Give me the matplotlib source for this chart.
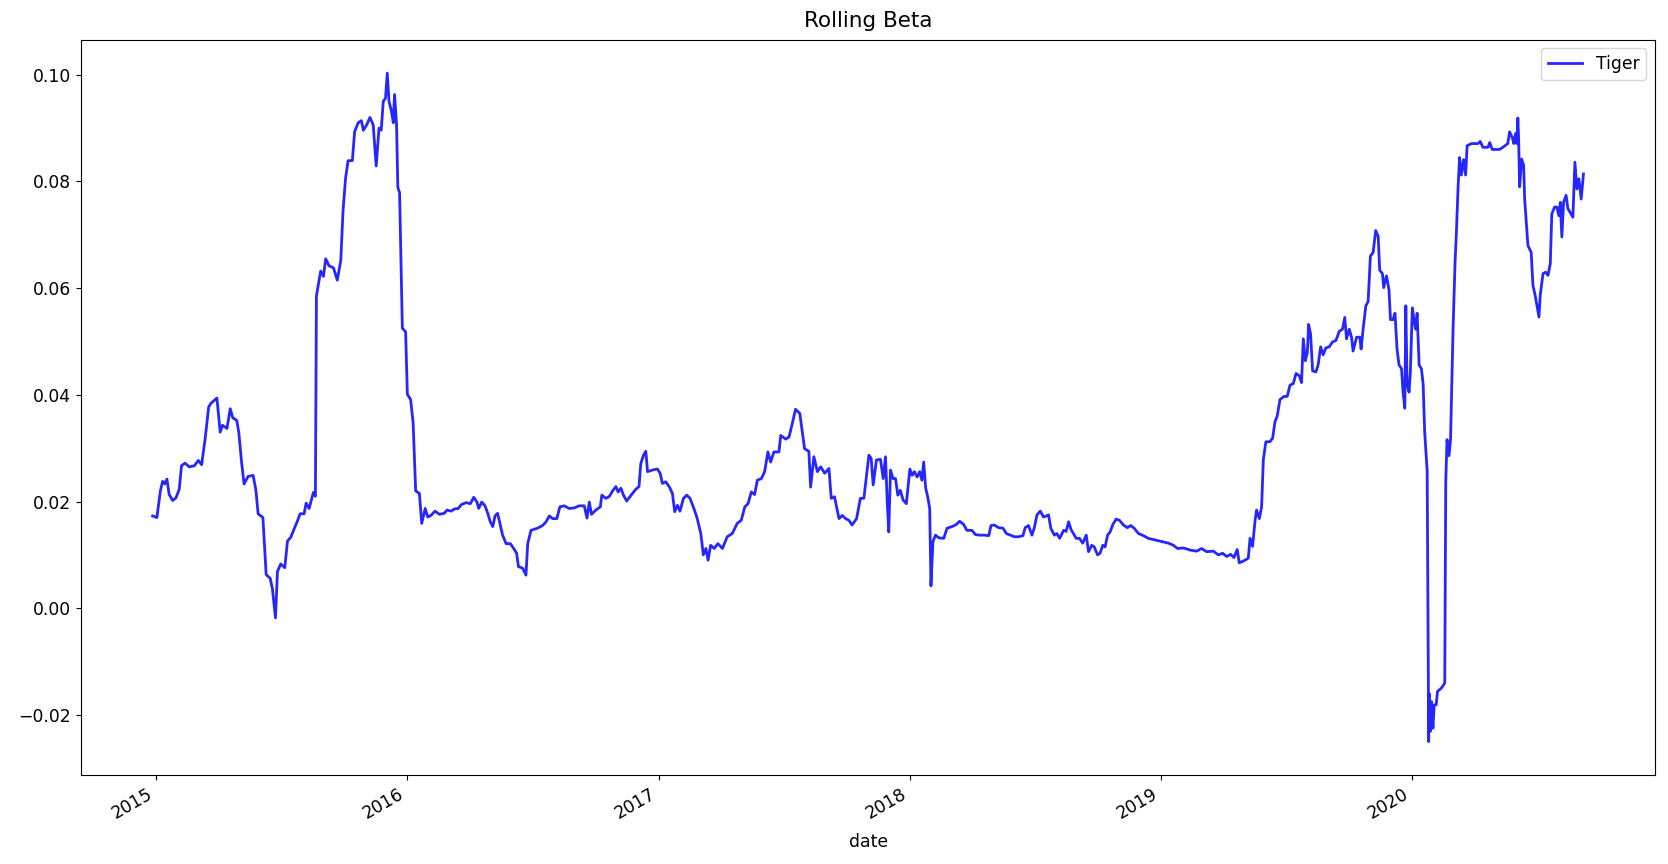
import numpy as np
import pandas as pd
import matplotlib
matplotlib.use("Agg")
import matplotlib.pyplot as plt
import matplotlib.dates as mdates

# rolling beta, time as decimal year
t2015 = [2014.987, 2015.004, 2015.018, 2015.027, 2015.036, 2015.044, 2015.053, 2015.067, 2015.080, 2015.093,
         2015.102, 2015.116, 2015.133, 2015.153, 2015.169, 2015.182, 2015.196, 2015.210, 2015.219, 2015.243,
         2015.256, 2015.265, 2015.283, 2015.296, 2015.306, 2015.322, 2015.330, 2015.341, 2015.351, 2015.367,
         2015.387, 2015.398, 2015.407, 2015.426, 2015.439, 2015.455, 2015.464, 2015.476, 2015.484, 2015.497,
         2015.513, 2015.524, 2015.537, 2015.548, 2015.563, 2015.574, 2015.590, 2015.598, 2015.610, 2015.627,
         2015.635, 2015.639, 2015.646, 2015.656, 2015.667, 2015.676, 2015.689, 2015.707, 2015.722, 2015.736,
         2015.745, 2015.755, 2015.765, 2015.782, 2015.791, 2015.805, 2015.818, 2015.826, 2015.839, 2015.852,
         2015.865, 2015.877, 2015.888, 2015.897, 2015.905, 2015.914, 2015.921, 2015.928, 2015.937, 2015.945,
         2015.950, 2015.958, 2015.963, 2015.970, 2015.981, 2015.994]
b2015 = [0.0173, 0.0170, 0.0220, 0.0238, 0.0233, 0.0242, 0.0213, 0.0202, 0.0207, 0.0223,
         0.0267, 0.0272, 0.0265, 0.0267, 0.0277, 0.0269, 0.0317, 0.0377, 0.0384, 0.0394,
         0.0330, 0.0343, 0.0337, 0.0374, 0.0357, 0.0352, 0.0330, 0.0274, 0.0233, 0.0247,
         0.0249, 0.0222, 0.0177, 0.0170, 0.0063, 0.0056, 0.0036, -0.0018, 0.0069, 0.0083,
         0.0076, 0.0126, 0.0133, 0.0146, 0.0163, 0.0177, 0.0177, 0.0197, 0.0187, 0.0217,
         0.0210, 0.0585, 0.0605, 0.0632, 0.0622, 0.0655, 0.0642, 0.0638, 0.0615, 0.0652,
         0.0746, 0.0806, 0.0839, 0.0839, 0.0893, 0.0910, 0.0914, 0.0896, 0.0906, 0.0920,
         0.0906, 0.0829, 0.0900, 0.0896, 0.0950, 0.0956, 0.1003, 0.0950, 0.0933, 0.0910,
         0.0963, 0.0906, 0.0789, 0.0779, 0.0525, 0.0518]

t2016 = [2016.001, 2016.014, 2016.024, 2016.034, 2016.049, 2016.058, 2016.072, 2016.082, 2016.095, 2016.111,
         2016.129, 2016.148, 2016.159, 2016.175, 2016.188, 2016.204, 2016.215, 2016.235, 2016.252, 2016.265,
         2016.278, 2016.285, 2016.297, 2016.310, 2016.321, 2016.331, 2016.341, 2016.350, 2016.360, 2016.368,
         2016.380, 2016.394, 2016.411, 2016.424, 2016.436, 2016.443, 2016.460, 2016.473, 2016.480, 2016.493,
         2016.519, 2016.539, 2016.553, 2016.566, 2016.579, 2016.596, 2016.608, 2016.625, 2016.645, 2016.665,
         2016.685, 2016.705, 2016.716, 2016.725, 2016.734, 2016.751, 2016.769, 2016.775, 2016.791, 2016.804,
         2016.818, 2016.831, 2016.840, 2016.851, 2016.861, 2016.874, 2016.890, 2016.910, 2016.923, 2016.930,
         2016.941, 2016.950, 2016.957, 2016.976, 2016.996]
b2016 = [0.0401, 0.0391, 0.0347, 0.0220, 0.0215, 0.0159, 0.0187, 0.0171, 0.0174, 0.0182,
         0.0176, 0.0178, 0.0184, 0.0182, 0.0186, 0.0187, 0.0194, 0.0198, 0.0196, 0.0208,
         0.0199, 0.0187, 0.0199, 0.0192, 0.0178, 0.0162, 0.0153, 0.0173, 0.0178, 0.0162,
         0.0137, 0.0121, 0.0121, 0.0112, 0.0103, 0.0078, 0.0075, 0.0062, 0.0121, 0.0146,
         0.0150, 0.0155, 0.0162, 0.0173, 0.0168, 0.0168, 0.0190, 0.0192, 0.0187, 0.0188,
         0.0192, 0.0192, 0.0169, 0.0199, 0.0176, 0.0184, 0.0190, 0.0212, 0.0206, 0.0209,
         0.0220, 0.0228, 0.0218, 0.0225, 0.0212, 0.0201, 0.0211, 0.0223, 0.0228, 0.0271,
         0.0287, 0.0294, 0.0256, 0.0259, 0.0261]

t2017 = [2017.007, 2017.016, 2017.029, 2017.043, 2017.056, 2017.065, 2017.076, 2017.086, 2017.100, 2017.113,
         2017.126, 2017.139, 2017.153, 2017.169, 2017.179, 2017.189, 2017.198, 2017.208, 2017.222, 2017.237,
         2017.255, 2017.274, 2017.294, 2017.314, 2017.330, 2017.344, 2017.357, 2017.370, 2017.383, 2017.394,
         2017.410, 2017.423, 2017.436, 2017.447, 2017.460, 2017.480, 2017.487, 2017.507, 2017.520, 2017.533,
         2017.546, 2017.563, 2017.573, 2017.582, 2017.599, 2017.606, 2017.619, 2017.633, 2017.646, 2017.662,
         2017.679, 2017.688, 2017.701, 2017.719, 2017.732, 2017.745, 2017.758, 2017.771, 2017.789, 2017.804,
         2017.818, 2017.827, 2017.838, 2017.847, 2017.855, 2017.868, 2017.884, 2017.895, 2017.904, 2017.911,
         2017.917, 2017.924, 2017.934, 2017.944, 2017.953, 2017.963, 2017.974, 2017.987]
b2017 = [0.0253, 0.0234, 0.0237, 0.0228, 0.0215, 0.0181, 0.0193, 0.0182, 0.0206, 0.0212,
         0.0206, 0.0190, 0.0171, 0.0140, 0.0100, 0.0112, 0.0090, 0.0118, 0.0112, 0.0121,
         0.0112, 0.0134, 0.0140, 0.0159, 0.0165, 0.0190, 0.0196, 0.0218, 0.0213, 0.0240,
         0.0243, 0.0256, 0.0293, 0.0274, 0.0293, 0.0293, 0.0324, 0.0317, 0.0321, 0.0346,
         0.0373, 0.0365, 0.0331, 0.0299, 0.0294, 0.0227, 0.0284, 0.0256, 0.0265, 0.0253,
         0.0262, 0.0206, 0.0209, 0.0168, 0.0174, 0.0168, 0.0165, 0.0156, 0.0168, 0.0206,
         0.0206, 0.0243, 0.0287, 0.0281, 0.0231, 0.0278, 0.0279, 0.0243, 0.0284, 0.0199,
         0.0143, 0.0259, 0.0243, 0.0243, 0.0212, 0.0221, 0.0203, 0.0196]

t2018 = [2018.001, 2018.010, 2018.019, 2018.030, 2018.040, 2018.049, 2018.056, 2018.064, 2018.072, 2018.080,
         2018.085, 2018.093, 2018.103, 2018.116, 2018.136, 2018.149, 2018.169, 2018.186, 2018.199, 2018.215,
         2018.228, 2018.248, 2018.262, 2018.279, 2018.297, 2018.315, 2018.324, 2018.337, 2018.354, 2018.372,
         2018.385, 2018.401, 2018.417, 2018.434, 2018.451, 2018.460, 2018.473, 2018.487, 2018.496, 2018.507,
         2018.520, 2018.533, 2018.544, 2018.553, 2018.562, 2018.576, 2018.586, 2018.597, 2018.613, 2018.623,
         2018.633, 2018.642, 2018.652, 2018.663, 2018.676, 2018.689, 2018.703, 2018.712, 2018.725, 2018.735,
         2018.748, 2018.758, 2018.769, 2018.778, 2018.788, 2018.798, 2018.809, 2018.822, 2018.835, 2018.851,
         2018.867, 2018.880, 2018.894, 2018.911, 2018.931, 2018.950, 2018.977]
b2018 = [0.0261, 0.0249, 0.0256, 0.0246, 0.0256, 0.0240, 0.0274, 0.0225, 0.0209, 0.0187,
         0.0042, 0.0125, 0.0137, 0.0132, 0.0131, 0.0150, 0.0153, 0.0157, 0.0163, 0.0157,
         0.0146, 0.0146, 0.0138, 0.0137, 0.0137, 0.0136, 0.0155, 0.0156, 0.0151, 0.0150,
         0.0140, 0.0137, 0.0134, 0.0134, 0.0136, 0.0151, 0.0155, 0.0137, 0.0150, 0.0175,
         0.0182, 0.0171, 0.0173, 0.0175, 0.0150, 0.0137, 0.0140, 0.0131, 0.0146, 0.0144,
         0.0162, 0.0148, 0.0140, 0.0131, 0.0131, 0.0122, 0.0137, 0.0106, 0.0118, 0.0115,
         0.0100, 0.0103, 0.0118, 0.0115, 0.0137, 0.0143, 0.0157, 0.0167, 0.0165, 0.0156,
         0.0151, 0.0155, 0.0150, 0.0140, 0.0136, 0.0131, 0.0128]

t2019 = [2019.003, 2019.030, 2019.050, 2019.066, 2019.090, 2019.116, 2019.143, 2019.162, 2019.182, 2019.209,
         2019.229, 2019.246, 2019.262, 2019.278, 2019.291, 2019.304, 2019.312, 2019.335, 2019.348, 2019.355,
         2019.365, 2019.375, 2019.381, 2019.392, 2019.401, 2019.408, 2019.418, 2019.434, 2019.445, 2019.454,
         2019.463, 2019.474, 2019.490, 2019.503, 2019.514, 2019.527, 2019.538, 2019.551, 2019.560, 2019.567,
         2019.575, 2019.583, 2019.588, 2019.596, 2019.604, 2019.617, 2019.626, 2019.636, 2019.646, 2019.657,
         2019.670, 2019.683, 2019.697, 2019.710, 2019.723, 2019.732, 2019.739, 2019.750, 2019.759, 2019.765,
         2019.779, 2019.792, 2019.797, 2019.805, 2019.816, 2019.825, 2019.834, 2019.845, 2019.855, 2019.865,
         2019.871, 2019.882, 2019.887, 2019.898, 2019.908, 2019.914, 2019.924, 2019.932, 2019.940, 2019.948,
         2019.958, 2019.964, 2019.971, 2019.975, 2019.980, 2019.988, 2019.993]
b2019 = [0.0125, 0.0122, 0.0118, 0.0112, 0.0113, 0.0109, 0.0107, 0.0112, 0.0106, 0.0107,
         0.0100, 0.0103, 0.0097, 0.0101, 0.0095, 0.0110, 0.0085, 0.0090, 0.0094, 0.0131,
         0.0116, 0.0164, 0.0184, 0.0168, 0.0190, 0.0279, 0.0312, 0.0312, 0.0319, 0.0349,
         0.0360, 0.0391, 0.0397, 0.0397, 0.0418, 0.0421, 0.0440, 0.0436, 0.0423, 0.0505,
         0.0464, 0.0479, 0.0532, 0.0514, 0.0445, 0.0443, 0.0456, 0.0490, 0.0475, 0.0488,
         0.0490, 0.0499, 0.0502, 0.0519, 0.0523, 0.0545, 0.0505, 0.0523, 0.0508, 0.0482,
         0.0508, 0.0508, 0.0486, 0.0523, 0.0567, 0.0575, 0.0660, 0.0667, 0.0708, 0.0697,
         0.0634, 0.0627, 0.0601, 0.0623, 0.0597, 0.0541, 0.0541, 0.0553, 0.0486, 0.0456,
         0.0449, 0.0405, 0.0375, 0.0567, 0.0420, 0.0405, 0.0442]

t2020 = [2020.001, 2020.006, 2020.014, 2020.020, 2020.028, 2020.037, 2020.044, 2020.050, 2020.057, 2020.060,
         2020.066, 2020.068, 2020.072, 2020.077, 2020.083, 2020.088, 2020.096, 2020.101, 2020.116, 2020.125,
         2020.130, 2020.134, 2020.139, 2020.147, 2020.153, 2020.163, 2020.171, 2020.176, 2020.183, 2020.189,
         2020.196, 2020.205, 2020.213, 2020.219, 2020.236, 2020.262, 2020.271, 2020.282, 2020.302, 2020.309,
         2020.319, 2020.348, 2020.361, 2020.381, 2020.388, 2020.399, 2020.405, 2020.412, 2020.417, 2020.421,
         2020.424, 2020.428, 2020.436, 2020.444, 2020.448, 2020.461, 2020.474, 2020.481, 2020.490, 2020.505,
         2020.510, 2020.521, 2020.531, 2020.541, 2020.550, 2020.556, 2020.567, 2020.576, 2020.584, 2020.590,
         2020.596, 2020.603, 2020.613, 2020.620, 2020.629, 2020.640, 2020.648, 2020.656, 2020.664, 2020.673,
         2020.682]
b2020 = [0.0563, 0.0545, 0.0523, 0.0553, 0.0456, 0.0449, 0.0420, 0.0331, 0.0279, 0.0257,
         -0.0250, -0.0160, -0.0231, -0.0175, -0.0225, -0.0181, -0.0181, -0.0156, -0.0150, -0.0144,
         -0.0140, 0.0238, 0.0316, 0.0286, 0.0316, 0.0523, 0.0649, 0.0701, 0.0789, 0.0845,
         0.0812, 0.0841, 0.0812, 0.0867, 0.0871, 0.0871, 0.0875, 0.0864, 0.0864, 0.0873,
         0.0860, 0.0860, 0.0864, 0.0871, 0.0893, 0.0882, 0.0871, 0.0890, 0.0871, 0.0919,
         0.0880, 0.0790, 0.0842, 0.0830, 0.0767, 0.0680, 0.0667, 0.0605, 0.0586, 0.0546,
         0.0587, 0.0627, 0.0630, 0.0624, 0.0646, 0.0739, 0.0752, 0.0752, 0.0736, 0.0761,
         0.0696, 0.0761, 0.0774, 0.0749, 0.0742, 0.0733, 0.0836, 0.0786, 0.0805, 0.0767,
         0.0814]

years = t2015 + t2016 + t2017 + t2018 + t2019 + t2020
beta = b2015 + b2016 + b2017 + b2018 + b2019 + b2020
if len(years) != len(beta):
    raise ValueError("length mismatch %d %d" % (len(years), len(beta)))

years = np.array(years)
dates = pd.Timestamp("2015-01-01") + pd.to_timedelta((years - 2015) * 365.25, unit="D")
tiger = pd.Series(beta, index=pd.DatetimeIndex(dates, name="date"), name="Tiger")

fig, ax = plt.subplots(figsize=(16.68, 8.64), dpi=100)
fig.subplots_adjust(left=0.0486, right=0.9922, bottom=0.103, top=0.954)

ax.plot(tiger.index, tiger.values, color="blue", alpha=0.85, lw=2.0, label="Tiger")

ax.set_title("Rolling Beta", fontsize=15.5, pad=9)
ax.set_xlabel("date", fontsize=12.4, labelpad=8)
ax.xaxis.set_major_locator(mdates.YearLocator())
ax.xaxis.set_major_formatter(mdates.DateFormatter("%Y"))
ax.tick_params(labelsize=12.4)
for lab in ax.get_xticklabels():
    lab.set_rotation(30)
    lab.set_ha("right")
ax.legend(loc="upper right", fontsize=12.4)

fig.savefig("out.png", dpi=100)
